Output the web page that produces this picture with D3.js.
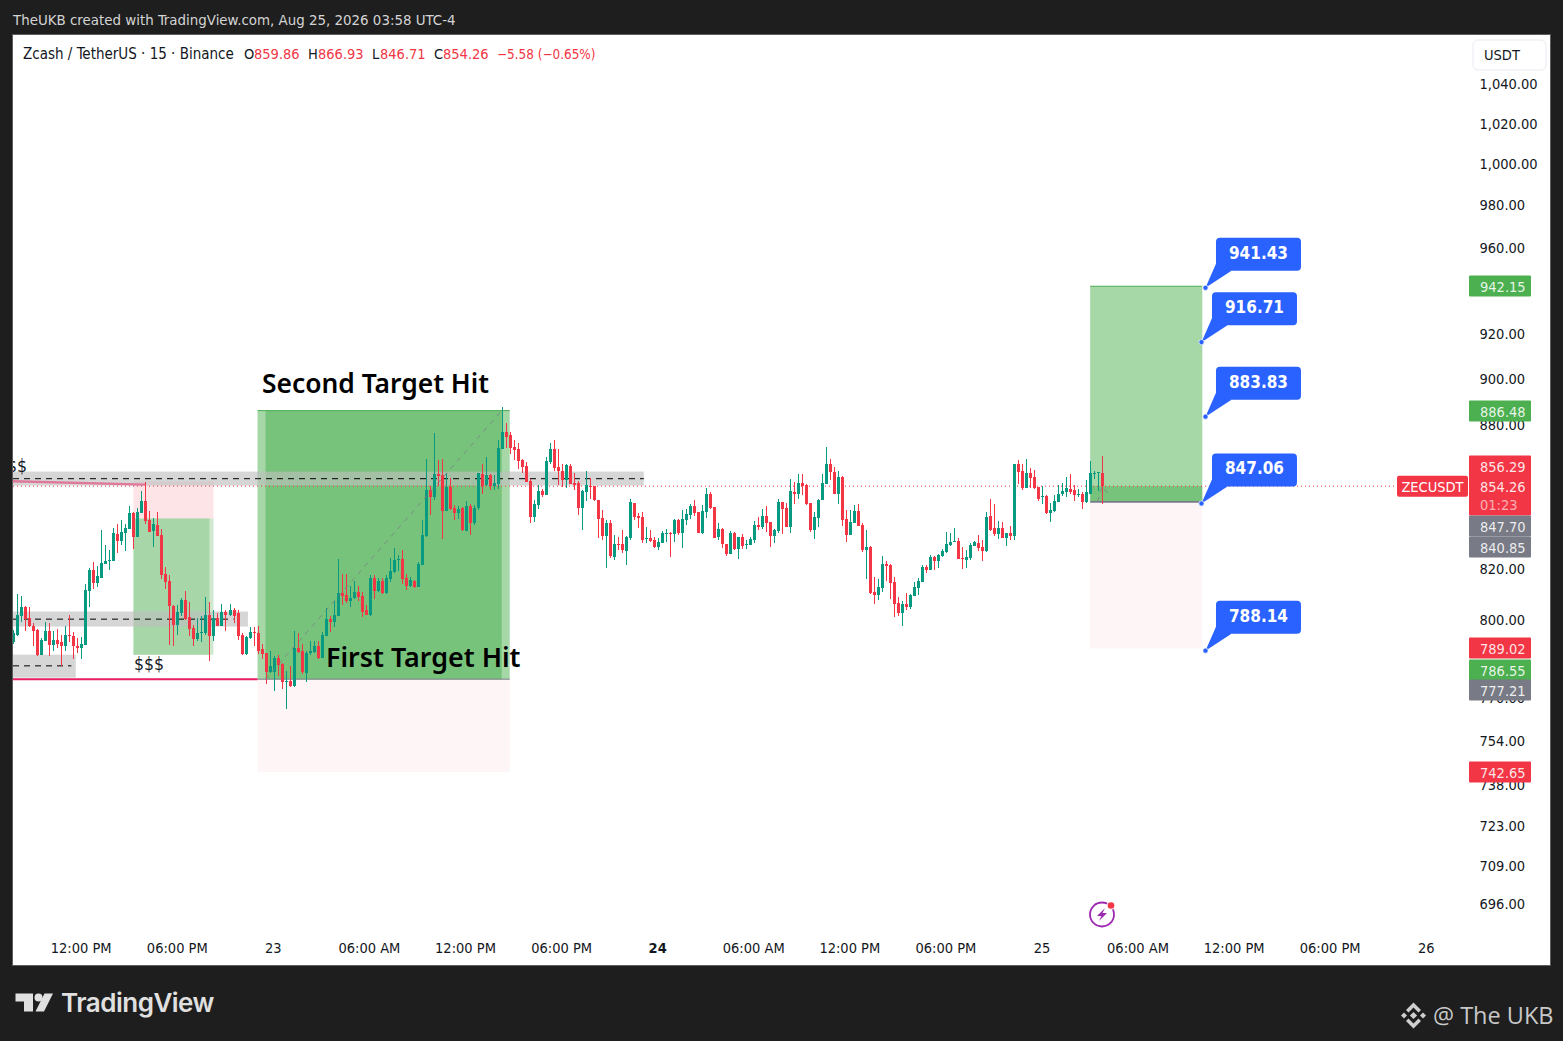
<!DOCTYPE html>
<html>
<head>
<meta charset="utf-8">
<title>ZECUSDT</title>
<script src="https://cdn.jsdelivr.net/npm/d3@7"></script>
<style>
  html, body { margin: 0; padding: 0; background: #1e1e1e; }
  svg { display: block; }
  text { font-family: "DejaVu Sans Condensed", "Noto Sans", sans-serif; }
  .axis text { font-size: 14.5px; fill: #131722; font-family: "DejaVu Sans Condensed", "Noto Sans", sans-serif; }
  .axis path, .axis line { display: none; }
</style>
</head>
<body>
<div id="chart"></div>
<script>
// --- Candles: 15 min bars, first bar at Aug 22 07:45 ---
const opens = [
  791.3,794.4,801.8,805.3,800.7,797.9,796.0,786.3,791.7,795.6,
  790.5,792.1,791.3,790.1,794.4,794.0,790.1,789.0,790.5,811.7,
  819.8,814.5,816.5,822.2,823.4,823.4,834.4,831.5,834.8,836.4,
  843.0,833.2,843.0,847.9,840.1,835.6,838.1,834.0,818.2,815.3,
  805.7,798.3,803.0,808.1,801.1,796.8,792.5,794.8,794.8,802.2,
  793.7,800.7,797.6,803.4,802.2,803.8,803.0,794.4,786.7,792.9,
  795.2,794.8,788.6,787.1,779.8,779.8,785.5,782.9,776.4,776.4,
  774.5,789.0,788.2,779.4,787.1,787.8,790.1,785.5,794.0,800.3,
  799.1,801.8,810.9,810.1,807.7,808.9,811.3,809.7,803.8,802.2,
  816.5,811.7,815.3,810.9,816.1,819.0,823.8,824.2,816.5,813.7,
  815.3,813.3,821.8,833.6,852.5,849.6,859.2,858.8,843.8,853.8,
  845.0,843.0,845.0,835.6,845.9,838.9,845.0,859.2,854.6,858.8,
  854.2,855.0,870.1,877.1,875.8,871.0,870.1,865.1,862.6,856.3,
  841.3,846.3,852.1,850.4,864.3,870.1,862.2,860.5,856.7,862.6,
  855.4,855.4,845.0,851.7,854.2,854.2,848.7,840.9,833.6,838.9,
  825.0,830.3,830.3,827.4,832.7,847.1,841.8,841.3,832.3,832.7,
  831.9,829.0,830.7,834.4,834.8,834.4,840.1,834.8,840.1,842.2,
  845.9,843.4,834.8,843.4,850.8,845.4,833.2,836.4,830.3,826.2,
  834.8,828.2,833.2,829.9,829.9,831.9,838.1,837.2,841.8,839.3,
  833.6,835.6,847.5,845.0,837.2,851.7,850.8,855.4,854.6,847.1,
  836.0,840.9,848.3,855.0,863.8,860.1,850.8,858.0,840.5,834.0,
  838.9,843.8,838.1,827.8,829.0,811.3,810.1,812.9,822.2,821.8,
  814.9,806.9,803.0,806.5,805.0,809.7,812.9,814.9,821.0,819.8,
  825.0,823.4,825.4,827.0,829.9,831.1,831.5,824.6,823.8,824.6,
  829.5,830.7,829.0,827.4,841.8,836.8,834.4,836.8,832.7,834.8,
  833.6,863.4,860.5,853.3,859.6,858.0,853.8,849.6,850.0,843.0,
  843.8,847.5,850.8,851.7,852.9,852.5,850.4,851.2,847.5,851.2,
  859.2,859.6,859.86
];
const highs = [
  796.0,810.5,809.7,805.7,805.0,798.7,796.4,792.9,799.1,798.7,
  795.6,796.4,794.4,797.6,802.2,795.2,792.9,793.3,814.1,820.6,
  823.0,821.4,836.0,829.9,827.8,836.8,838.5,840.1,838.5,845.9,
  843.4,845.0,852.1,855.9,843.8,840.9,843.4,836.4,821.0,817.8,
  806.1,806.1,808.9,811.7,807.3,798.3,800.7,801.5,809.3,807.3,
  803.8,803.0,806.5,803.8,806.5,804.6,803.8,794.8,793.7,797.2,
  797.2,797.6,790.9,787.4,788.2,785.9,786.3,783.3,780.2,782.1,
  795.6,794.8,790.9,788.2,791.7,791.7,791.7,795.2,804.6,801.8,
  807.7,824.2,818.2,818.2,813.7,815.3,813.7,811.3,806.1,817.8,
  817.8,816.5,816.5,817.8,824.6,828.6,825.8,827.8,818.2,816.9,
  815.7,823.0,840.1,865.9,854.2,876.6,865.1,865.9,859.6,857.5,
  846.3,845.9,845.4,847.9,846.7,846.3,859.6,863.8,866.4,859.2,
  858.8,873.6,887.9,881.0,877.1,874.0,872.7,865.9,864.3,857.1,
  848.3,854.6,852.9,866.4,872.7,873.6,870.1,863.8,863.8,863.4,
  859.6,856.3,852.5,860.5,857.5,854.2,848.7,844.2,840.1,840.1,
  834.0,833.2,836.0,833.6,849.1,847.1,843.0,843.4,837.2,836.0,
  833.2,832.7,835.6,836.4,835.2,840.5,840.5,844.2,844.6,846.7,
  848.3,843.4,846.3,853.3,851.7,845.4,838.9,836.8,830.3,835.6,
  835.2,833.2,834.4,831.9,833.2,839.7,841.3,844.6,845.9,839.3,
  836.4,849.1,847.5,847.1,857.1,855.9,859.2,859.2,855.0,847.1,
  843.4,849.1,859.2,871.0,865.9,862.2,860.5,858.4,844.2,844.2,
  846.3,846.7,838.9,836.0,829.5,816.9,816.1,825.4,823.4,822.2,
  816.9,809.3,807.7,810.9,810.5,814.9,816.5,821.8,821.8,825.8,
  825.4,826.2,828.2,835.2,834.8,836.8,832.7,829.0,827.8,830.7,
  831.5,834.0,831.9,843.4,849.1,846.7,839.7,839.3,834.8,837.7,
  863.8,865.1,863.8,865.5,861.7,860.9,853.8,854.2,850.4,847.1,
  850.4,854.6,855.4,858.0,859.2,854.6,852.9,851.7,856.7,864.7,
  860.5,860.1,866.93
];
const lows = [
  790.9,793.7,799.1,795.6,797.2,789.8,785.9,786.3,791.7,785.9,
  788.2,789.0,782.1,788.2,791.3,785.1,787.1,785.1,790.5,805.3,
  812.5,813.3,816.5,822.2,819.8,823.4,826.6,829.9,827.4,836.4,
  828.2,833.2,843.0,838.5,835.2,829.0,833.6,816.1,812.5,790.5,
  790.1,794.4,801.5,799.9,794.0,789.8,791.7,791.3,794.4,784.0,
  791.7,797.6,797.6,795.6,801.8,798.7,792.1,786.3,786.3,792.5,
  790.1,786.7,785.1,775.2,779.4,772.9,778.3,773.3,766.0,774.1,
  774.1,787.1,779.0,776.0,786.3,787.4,785.1,785.5,794.0,795.2,
  797.2,801.5,806.1,806.9,805.3,808.5,807.7,801.1,802.2,801.8,
  808.5,811.3,810.5,810.5,814.9,818.6,819.4,814.1,812.1,813.3,
  812.9,813.3,821.8,833.2,842.2,848.7,854.2,832.3,843.8,844.2,
  840.1,840.5,835.6,835.6,834.0,838.1,844.2,850.8,854.2,852.5,
  852.5,852.9,870.1,870.6,868.0,865.1,861.3,859.6,855.9,838.9,
  839.3,844.6,849.6,850.4,863.8,860.5,854.6,853.8,853.3,855.0,
  852.5,842.2,836.0,847.9,849.1,847.9,832.7,831.9,820.6,824.6,
  823.8,827.8,826.6,821.8,831.9,840.1,836.8,830.7,830.7,831.1,
  828.6,827.8,830.7,831.1,825.0,831.1,834.0,828.6,838.1,840.5,
  841.8,834.8,834.4,840.9,844.6,832.7,831.9,828.6,825.4,826.2,
  827.8,824.2,828.2,828.2,829.9,830.7,836.0,836.4,835.2,829.0,
  830.7,834.8,834.4,837.2,834.8,846.7,849.1,850.4,846.3,835.2,
  832.3,837.2,848.3,855.0,856.7,850.8,846.7,837.7,831.1,834.0,
  838.9,837.7,827.0,816.1,810.5,806.5,808.1,811.3,815.3,808.5,
  801.1,801.5,797.6,803.8,804.2,809.7,810.1,814.9,818.6,819.8,
  819.8,820.6,825.0,826.6,829.5,831.1,824.2,820.2,820.6,823.8,
  829.5,827.4,823.4,827.0,835.6,833.6,832.3,832.7,829.5,831.9,
  831.9,855.0,852.5,853.3,853.3,852.9,847.9,846.7,842.6,839.3,
  843.4,847.5,850.0,849.6,851.2,847.9,849.6,844.6,847.1,850.8,
  857.1,852.1,846.71
];
const closes = [
  794.8,802.2,805.3,800.3,797.6,795.6,786.3,792.1,795.6,790.5,
  792.1,790.9,789.8,794.4,793.7,789.8,789.0,790.9,812.1,819.8,
  814.5,817.3,822.6,823.4,823.8,834.8,831.5,835.2,836.8,843.0,
  833.2,843.4,847.9,839.7,835.2,838.5,833.6,817.8,814.9,805.7,
  798.3,803.4,808.1,800.3,796.4,792.5,794.8,795.2,802.2,793.7,
  800.7,797.6,803.4,802.2,803.8,801.8,794.0,786.7,793.3,795.2,
  794.8,788.2,786.7,779.8,782.1,785.5,782.5,776.0,776.7,774.5,
  789.0,787.8,779.8,787.4,788.2,790.1,785.5,794.4,800.3,799.1,
  802.2,810.9,809.7,807.7,808.9,811.3,809.3,803.4,802.2,816.5,
  811.7,815.3,810.9,816.5,819.4,823.8,824.2,816.1,813.7,815.7,
  813.3,822.2,834.0,852.5,849.6,859.2,858.4,843.8,853.8,844.6,
  843.0,844.6,836.0,845.9,838.9,845.0,859.6,854.2,858.8,854.2,
  855.4,870.6,877.1,875.3,870.6,869.7,864.7,862.2,855.9,841.3,
  846.7,852.1,850.4,864.7,870.1,861.7,860.5,856.7,863.0,855.0,
  854.6,845.0,852.1,854.6,853.8,848.3,840.5,833.6,838.9,825.4,
  830.3,829.9,827.8,833.2,847.5,841.3,840.9,831.9,832.7,831.5,
  829.0,831.1,834.8,834.8,834.4,840.1,834.8,840.5,842.6,845.9,
  843.0,834.8,843.8,850.8,845.0,832.7,836.4,830.3,826.2,834.8,
  828.2,833.2,829.5,830.3,832.3,838.1,837.2,841.8,838.9,833.6,
  836.0,847.5,844.6,837.2,852.1,850.8,855.4,854.2,846.7,836.0,
  841.3,848.3,855.4,863.8,860.1,850.8,858.0,840.1,834.0,839.3,
  843.8,837.7,827.8,829.0,810.9,810.1,813.3,822.2,821.4,814.5,
  806.5,803.0,806.5,805.0,810.1,813.3,815.3,821.0,819.8,825.0,
  823.4,825.8,827.4,830.3,831.1,831.5,824.2,824.2,825.0,829.9,
  831.1,828.6,827.4,841.3,836.0,834.4,836.8,832.7,834.8,833.6,
  863.4,860.1,853.3,859.6,857.5,853.3,849.1,850.0,843.0,844.2,
  847.9,851.2,852.1,853.3,851.7,850.4,851.2,847.5,851.7,859.6,
  859.6,860.1,854.26
];

// --- Axis values ---
const priceTicks = [1040,1020,1000,980,960,920,900,880,820,800,770,754,738,723,709,696];
const timeTicks = [
  '2026-08-22 12:00','2026-08-22 18:00','2026-08-23 00:00','2026-08-23 06:00','2026-08-23 12:00',
  '2026-08-23 18:00','2026-08-24 00:00','2026-08-24 06:00','2026-08-24 12:00','2026-08-24 18:00',
  '2026-08-25 00:00','2026-08-25 06:00','2026-08-25 12:00','2026-08-25 18:00','2026-08-26 00:00'
];
const boldTick = '2026-08-24 00:00';

// --- Long position tools (bar indexes and prices) ---
const posStartBar = [30, 61, 269];
const posEndBar = [50, 124, 297];
const posFillStartBar = [30, 63, 269];
const posFillEndBar = [49, 122, 297];
const posEntry = [840.85, 777.21, 847.70];
const posTarget = [786.55, 886.48, 942.15];
const posStop = [856.29, 742.65, 789.02];
const posFillTo = [786.55, 886.48, 854.26];

// --- Liquidity zones ---
const zoneTop = [860.4, 803.4, 786.6];
const zoneBottom = [854.5, 797.5, 777.8];
const zoneMid = [857.4, 800.4, 782.3];
const zoneEndBar = [157.5, 58.6, 15.6];
const zoneDashEndBar = [157.5, 55, 14.5];

// --- Callouts ---
const calloutPrices = [941.43, 916.71, 883.83, 847.06, 788.14];
const calloutBars = [297.8, 296.8, 297.8, 296.8, 297.8];

// --- Right scale labels ---
const scaleLabels = ['942.15','886.48','856.29','854.26','847.70','840.85','789.02','786.55','777.21','742.65'];
const scaleLabelPrices = [942.15,886.48,856.29,854.26,847.70,840.85,789.02,786.55,777.21,742.65];
const scaleLabelColors = ['#4caf50','#4caf50','#f23645','#f23645','#787b86','#787b86','#f23645','#4caf50','#787b86','#f23645'];
const scaleLabelNudge = [0,0,-15.5,0,24.5,28.5,0,15,11,0];

const lastPrice = 854.26;
const countdown = '01:23';
const upColor = '#089981';
const downColor = '#f23645';

const width = 1563, height = 1041;
const pane = { left: 13, right: 1550, top: 35, bottom: 965 };

const barMs = 15 * 60 * 1000;
const parseTick = d3.utcParse('%Y-%m-%d %H:%M');
const firstBar = parseTick('2026-08-22 07:45');
const timeOf = i => new Date(firstBar.getTime() + i * barMs);

const x = d3.scaleUtc()
    .domain([timeOf(0), timeOf(closes.length - 1)])
    .range([13.33, 1102.2]);
const y = d3.scaleLog()
    .domain([696, 1040])
    .range([904.5, 84.5]);
const barX = i => x(timeOf(i));

const svg = d3.select('#chart').append('svg')
    .attr('width', width)
    .attr('height', height);

svg.append('defs').append('clipPath').attr('id', 'pane-clip')
  .append('rect')
    .attr('x', pane.left).attr('y', pane.top)
    .attr('width', pane.right - pane.left).attr('height', pane.bottom - pane.top);

// --- Frame ---
svg.append('rect')
    .attr('x', pane.left - 0.5).attr('y', pane.top - 0.5)
    .attr('width', pane.right - pane.left + 1).attr('height', pane.bottom - pane.top + 1)
    .attr('fill', '#fff').attr('stroke', '#5d5d5d');

svg.append('text')
    .attr('x', 13).attr('y', 25)
    .attr('fill', '#d4d4d4').attr('font-size', 14.9)
    .text('TheUKB created with TradingView.com, Aug 25, 2026 03:58 UTC-4');

const plot = svg.append('g').attr('clip-path', 'url(#pane-clip)');

// --- Position boxes under the candles ---
const boxAlpha = [0.27, 0.5, 0.5];
const fillAlpha = [0.3, 0.5, 0.5];
const stopAlpha = [0.134, 0.05, 0.05];
function priceRect(g, x0, x1, p0, p1) {
  const ya = y(p0), yb = y(p1);
  return g.append('rect')
      .attr('x', x0).attr('width', x1 - x0)
      .attr('y', Math.min(ya, yb)).attr('height', Math.abs(yb - ya));
}
posEntry.forEach((entry, k) => {
  const x0 = barX(posStartBar[k]), x1 = barX(posEndBar[k]);
  priceRect(plot, x0, x1, entry, posTarget[k]).attr('fill', '#4caf50').attr('fill-opacity', boxAlpha[k]);
  priceRect(plot, x0, x1, entry, posStop[k]).attr('fill', '#f23645').attr('fill-opacity', stopAlpha[k]);
  priceRect(plot, barX(posFillStartBar[k]), barX(posFillEndBar[k]), entry, posFillTo[k])
      .attr('fill', '#4caf50').attr('fill-opacity', fillAlpha[k]);
  if (k > 0) {
    plot.append('line')
        .attr('x1', x0).attr('x2', x1).attr('y1', y(entry)).attr('y2', y(entry))
        .attr('stroke', '#787b86').attr('stroke-width', k === 2 ? 1.6 : 1);
    plot.append('line')
        .attr('x1', x0).attr('x2', x1).attr('y1', y(posTarget[k])).attr('y2', y(posTarget[k]))
        .attr('stroke', '#4caf50').attr('stroke-width', 1);
  }
});

// --- Zones ---
zoneTop.forEach((top, k) => {
  priceRect(plot, pane.left, barX(zoneEndBar[k]), top, zoneBottom[k])
      .attr('fill', '#bebebe').attr('fill-opacity', 0.63);
  plot.append('line')
      .attr('x1', pane.left).attr('x2', barX(zoneDashEndBar[k]))
      .attr('y1', y(zoneMid[k])).attr('y2', y(zoneMid[k]))
      .attr('stroke', '#000').attr('stroke-width', 1).attr('stroke-dasharray', '6 5');
});

// --- Swept liquidity lines ---
plot.append('line')
    .attr('x1', pane.left).attr('x2', barX(33))
    .attr('y1', y(856.3)).attr('y2', y(854.9))
    .attr('stroke', '#e0789c').attr('stroke-width', 2.4);
plot.append('line')
    .attr('x1', pane.left).attr('x2', barX(61))
    .attr('y1', y(777.21)).attr('y2', y(777.21))
    .attr('stroke', '#e91e63').attr('stroke-width', 2);

// --- Last price line ---
plot.append('line')
    .attr('x1', pane.left).attr('x2', 1397)
    .attr('y1', y(lastPrice)).attr('y2', y(lastPrice))
    .attr('stroke', '#f23645').attr('stroke-width', 1).attr('stroke-dasharray', '1 3');

// --- Candles ---
const candles = plot.append('g').selectAll('g')
  .data(d3.range(closes.length))
  .join('g')
    .attr('fill', i => closes[i] >= opens[i] ? upColor : downColor);
candles.append('rect')
    .attr('x', i => Math.round(barX(i)))
    .attr('width', 1)
    .attr('y', i => Math.round(y(highs[i])))
    .attr('height', i => Math.round(y(lows[i])) - Math.round(y(highs[i])));
candles.append('rect')
    .attr('x', i => Math.round(barX(i)) - 1)
    .attr('width', 3)
    .attr('y', i => Math.round(y(Math.max(opens[i], closes[i]))))
    .attr('height', i => Math.max(1, Math.round(y(Math.min(opens[i], closes[i]))) - Math.round(y(Math.max(opens[i], closes[i])))));

// --- Trade path dashes ---
const pathStyle = s => s.attr('stroke', '#787b86').attr('stroke-width', 1).attr('stroke-opacity', 0.75)
    .attr('stroke-dasharray', '5 5').attr('fill', 'none');
plot.append('line')
    .attr('x1', barX(63)).attr('y1', y(777.21))
    .attr('x2', barX(122)).attr('y2', y(886.48))
    .call(pathStyle);
plot.append('polyline')
    .attr('points', [[270.8, 847.7], [272, 854.26], [273.5, 851]].map(d => [barX(d[0]), y(d[1])].join(',')).join(' '))
    .call(pathStyle);

// --- Annotations ---
plot.append('text').attr('x', 149).attr('y', 670).attr('text-anchor', 'middle')
    .attr('font-size', 17.5).attr('fill', '#131722').text('$$$');
plot.append('text').attr('x', 27).attr('y', 471.5).attr('text-anchor', 'end')
    .attr('font-size', 17.5).attr('fill', '#131722').text('$$$');
svg.append('text').attr('x', 262).attr('y', 393)
    .style('font-family', '"Noto Sans"')
    .attr('font-size', 26.4).attr('font-weight', 600).attr('fill', '#000').text('Second Target Hit');
svg.append('text').attr('x', 326).attr('y', 667)
    .style('font-family', '"Noto Sans"')
    .attr('font-size', 26.9).attr('font-weight', 600).attr('fill', '#000').text('First Target Hit');

// --- Axes ---
svg.append('g').attr('class', 'axis')
    .attr('transform', 'translate(1479.5,-0.5)')
    .call(d3.axisRight(y).tickValues(priceTicks).tickSize(0).tickPadding(0).tickFormat(d3.format(',.2f')));

const tickDates = timeTicks.map(parseTick);
const hourFormat = d3.utcFormat('%I:%M %p');
const dayFormat = d3.utcFormat('%-d');
const xAxis = svg.append('g').attr('class', 'axis')
    .attr('transform', 'translate(-0.7,943)')
    .call(d3.axisBottom(x).tickValues(tickDates).tickSize(0).tickPadding(0)
      .tickFormat(d => d.getUTCHours() === 0 ? dayFormat(d) : hourFormat(d)));
xAxis.selectAll('.tick text')
    .style('font-weight', d => d.getTime() === parseTick(boldTick).getTime() ? 700 : 400);

// --- Callouts ---
const callouts = svg.append('g').selectAll('g')
  .data(calloutPrices)
  .join('g')
    .attr('transform', (d, k) => `translate(${barX(calloutBars[k])},${y(d)})`);
callouts.append('path')
    .attr('d', 'M0,0L10.5,-24L26,-17Z')
    .attr('fill', '#2962ff');
callouts.append('rect')
    .attr('x', 10.5).attr('y', -50).attr('width', 85).attr('height', 33).attr('rx', 4)
    .attr('fill', '#2962ff');
callouts.append('circle')
    .attr('r', 2.6).attr('fill', '#2962ff').attr('stroke', '#fff').attr('stroke-width', 0.7);
callouts.append('text')
    .attr('x', 53).attr('y', -29).attr('text-anchor', 'middle')
    .attr('font-size', 17).attr('font-weight', 700).attr('fill', '#fff')
    .text(d => d.toFixed(2));

// --- Right scale labels ---
const labels = svg.append('g').selectAll('g')
  .data(scaleLabelPrices)
  .join('g')
    .attr('transform', (d, k) => `translate(1469,${Math.round(y(d) + scaleLabelNudge[k])})`);
labels.append('rect')
    .attr('y', -10.5).attr('width', 62).attr('height', (d, k) => k === 3 ? 40 : 21).attr('rx', 1)
    .attr('fill', (d, k) => scaleLabelColors[k]);
labels.append('text')
    .attr('x', 11).attr('y', 5.5)
    .attr('font-size', 14.5).attr('fill', '#fff').attr('fill-opacity', 0.88)
    .text((d, k) => scaleLabels[k]);
svg.append('text')
    .attr('x', 1480).attr('y', y(lastPrice) + 23.5)
    .attr('font-size', 14.5).attr('fill', '#fff').attr('fill-opacity', 0.6).text(countdown);

svg.append('rect')
    .attr('x', 1397).attr('y', y(lastPrice) - 10.5).attr('width', 71).attr('height', 21).attr('rx', 2)
    .attr('fill', '#f23645');
svg.append('text')
    .attr('x', 1432.5).attr('y', y(lastPrice) + 5.5).attr('text-anchor', 'middle')
    .attr('font-size', 14.5).attr('fill', '#fff').text('ZECUSDT');

// --- Currency button ---
svg.append('rect')
    .attr('x', 1473).attr('y', 40).attr('width', 73).attr('height', 30).attr('rx', 5)
    .attr('fill', '#fff').attr('stroke', '#e8eaf0');
svg.append('text')
    .attr('x', 1484).attr('y', 60).attr('font-size', 14.5).attr('fill', '#131722').text('USDT');

// --- Legend ---
const legendText = [
  ['Zcash / TetherUS · 15 · Binance', 23, '#131722', 15],
  ['O', 244, '#131722', 14.5], ['859.86', 254, '#f23645', 14.5],
  ['H', 308, '#131722', 14.5], ['866.93', 318, '#f23645', 14.5],
  ['L', 372, '#131722', 14.5], ['846.71', 380, '#f23645', 14.5],
  ['C', 434, '#131722', 14.5], ['854.26', 443, '#f23645', 14.5],
  ['−5.58 (−0.65%)', 497, '#f23645', 13.4]
];
svg.append('g').selectAll('text')
  .data(legendText)
  .join('text')
    .attr('x', d => d[1]).attr('y', 59)
    .attr('font-size', d => d[3]).attr('fill', d => d[2])
    .text(d => d[0]);

// --- Alert icon ---
const bolt = svg.append('g').attr('transform', 'translate(1102,914.5)');
bolt.append('circle').attr('r', 12).attr('fill', '#fff').attr('stroke', '#9c27b0').attr('stroke-width', 1.8);
bolt.append('path').attr('d', 'M3,-6.5L-5,1.5H-0.5L-3,6.5L5,-1.5H0.5Z').attr('fill', '#9c27b0');
bolt.append('circle').attr('cx', 9).attr('cy', -9).attr('r', 4.4).attr('fill', '#fff');
bolt.append('circle').attr('cx', 9).attr('cy', -9).attr('r', 3.3).attr('fill', '#f23645');

// --- Footer ---
const logo = svg.append('g').attr('fill', '#e0e0e0');
logo.append('path').attr('d', 'M15.5,993.5H33V1011.5H24V1001.5H15.5Z');
logo.append('circle').attr('cx', 38.5).attr('cy', 997.5).attr('r', 4);
logo.append('path').attr('d', 'M44.5,993.5H53L44,1011.5H35.5Z');
svg.append('text').attr('x', 61).attr('y', 1012)
    .style('font-family', 'Inter')
    .attr('font-size', 26).attr('font-weight', 600).attr('fill', '#e0e0e0').attr('letter-spacing', -0.5)
    .text('TradingView');

const mark = svg.append('g').attr('transform', 'translate(1413.5,1015.5)').attr('fill', '#cfcfcf');
mark.append('path').attr('d', 'M0,-3.6L3.6,0L0,3.6L-3.6,0Z');
mark.append('path').attr('d', 'M-9.5,-3L-6.5,0L-9.5,3L-12.5,0Z');
mark.append('path').attr('d', 'M9.5,-3L12.5,0L9.5,3L6.5,0Z');
mark.append('path').attr('d', 'M0,-13L7.5,-5.5L5,-3L0,-8L-5,-3L-7.5,-5.5Z');
mark.append('path').attr('d', 'M0,13L7.5,5.5L5,3L0,8L-5,3L-7.5,5.5Z');
svg.append('text').attr('x', 1433).attr('y', 1024)
    .style('font-family', '"Open Sans"')
    .attr('font-size', 23.5).attr('fill', '#c8c8c8').text('@ The UKB');
</script>
</body>
</html>
